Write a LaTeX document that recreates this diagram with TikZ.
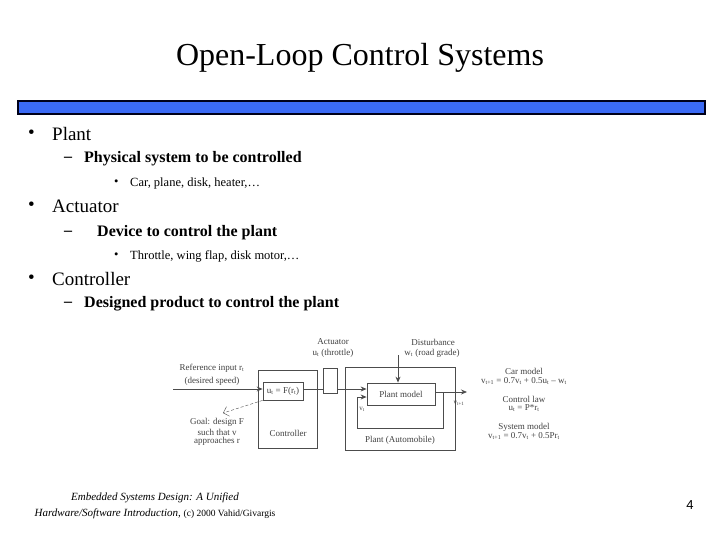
\documentclass[tikz,border=0pt]{standalone}
\usepackage{fontspec}
\setmainfont{Liberation Serif}
\newfontfamily\sansf{Liberation Sans}
\usetikzlibrary{arrows.meta}
\newcommand{\sbs}[1]{\textsubscript{#1}}
\begin{document}
\begin{tikzpicture}[x=1pt,y=-1pt,
  lbl/.style={inner sep=0pt,font=\fontsize{9}{10}\selectfont,text=black!75},
  blk/.style={draw=black!70,line width=0.8pt},
  ar/.style={draw=black!70,line width=0.8pt,-{Stealth[length=6pt,width=5pt]}},
  b1/.style={anchor=west,inner sep=0pt,font=\fontsize{19}{22}\selectfont},
  b2/.style={anchor=west,inner sep=0pt,font=\fontsize{16}{19}\selectfont\bfseries},
  b3/.style={anchor=west,inner sep=0pt,font=\fontsize{12.5}{15}\selectfont}]
\useasboundingbox (0,0) rectangle (720,540);
\node[inner sep=0pt,font=\fontsize{32}{36}\selectfont] (title) at (360,58) {Open-Loop Control Systems};
\node[draw=black!90!blue,line width=1.2pt,fill={rgb,255:red,59;green,106;blue,245},minimum width=687pt,minimum height=13pt,inner sep=0pt] (bar) at (361.5,107.5) {};
% bullets
\node[b1] (d1) at (28,134) {•}; \node[b1] (t1) at (52,134) {Plant};
\node[b2] (d2) at (64,159) {–}; \node[b2] (t2) at (84,159) {Physical system to be controlled};
\node[b3] (d3) at (114,183) {•}; \node[b3] (t3) at (130,183) {Car, plane, disk, heater,…};
\node[b1] (d4) at (28,206) {•}; \node[b1] (t4) at (52,206) {Actuator};
\node[b2] (d5) at (64,233) {–}; \node[b2] (t5) at (97,233) {Device to control the plant};
\node[b3] (d6) at (114,256) {•}; \node[b3] (t6) at (130,256) {Throttle, wing flap, disk motor,…};
\node[b1] (d7) at (28,279) {•}; \node[b1] (t7) at (52,279) {Controller};
\node[b2] (d8) at (64,304) {–}; \node[b2] (t8) at (84,304) {Designed product to control the plant};
% diagram
\draw[blk] (258,370) rectangle (317,448);
\node[blk,minimum width=40pt,minimum height=18pt,inner sep=0pt,font=\fontsize{9}{10}\selectfont,text=black!75] (ctl) at (283,391) {u\sbs{t} = F(r\sbs{t})};
\node[blk,minimum width=14pt,minimum height=25pt,inner sep=0pt] (act) at (330,380.5) {};
\draw[blk] (345,367) rectangle (455,450);
\node[blk,minimum width=68pt,minimum height=22pt,inner sep=0pt,font=\fontsize{9}{10}\selectfont,text=black!75] (pm) at (401,394) {Plant model};
\coordinate (in) at (173,389);
\draw[ar] (in) -- (ctl.west|-in);
\draw[blk] (ctl.east|-in) -- (act.west|-in);
\draw[ar] (act.east|-in) -- (pm.west|-in);
\coordinate (out) at (467,392);
\draw[ar] (pm.east|-out) -- (out);
\coordinate (fb1) at (443,392);
\draw[ar] (fb1) -- (443,428) -- (357,428) -- (357,397) -- (pm.west|-{(0,397)});
\coordinate (dist) at (398,355);
\draw[ar] (dist) -- (dist|-pm.north);
\coordinate (g) at (223,413);
\draw[densely dashed,draw=black!70,-{Straight Barb[length=5pt]}] (ctl.south west) -- (g);
\node[lbl] (r1) at (212,368) {Reference input r\sbs{t}};
\node[lbl] (r2) at (212,381) {(desired speed)};
\node[lbl] (g1) at (217,422) {Goal: design F};
\node[lbl] (g2) at (217,432) {such that v};
\node[lbl] (g3) at (217,441) {approaches r};
\node[lbl] (cl) at (288,433) {Controller};
\node[lbl] (a1) at (333,342) {Actuator};
\node[lbl] (a2) at (333,353) {u\sbs{t} (throttle)};
\node[lbl] (w1) at (433,342) {Disturbance};
\node[lbl] (w2) at (432,353) {w\sbs{t} (road grade)};
\node[lbl] (pl) at (400,440) {Plant (Automobile)};
\node[lbl,font=\fontsize{7}{8}\selectfont] (vt) at (362,409) {v\sbs{t}};
\node[lbl,font=\fontsize{7}{8}\selectfont] (vt1) at (459,403) {v\sbs{t+1}};
\node[lbl] (m1) at (524,371) {Car model};
\node[lbl] (m2) at (524,381) {v\sbs{t+1} = 0.7v\sbs{t} + 0.5u\sbs{t} -- w\sbs{t}};
\node[lbl] (m3) at (524,399) {Control law};
\node[lbl] (m4) at (524,408) {u\sbs{t} = P*r\sbs{t}};
\node[lbl] (m5) at (524,427) {System model};
\node[lbl] (m6) at (524,436) {v\sbs{t+1} = 0.7v\sbs{t} + 0.5Pr\sbs{t}};
% footer
\node[inner sep=0pt,font=\fontsize{11}{13}\selectfont\itshape] (f1) at (155,498) {Embedded Systems Design: A Unified};
\node[inner sep=0pt,font=\fontsize{11}{13}\selectfont] (f2) at (155,514) {\textit{Hardware/Software Introduction,} {\fontsize{9.5}{11}\selectfont(c) 2000 Vahid/Givargis}};
\node[inner sep=0pt,font=\fontsize{13}{15}\selectfont\sansf] (pg) at (690,505) {4};
\end{tikzpicture}
\end{document}
